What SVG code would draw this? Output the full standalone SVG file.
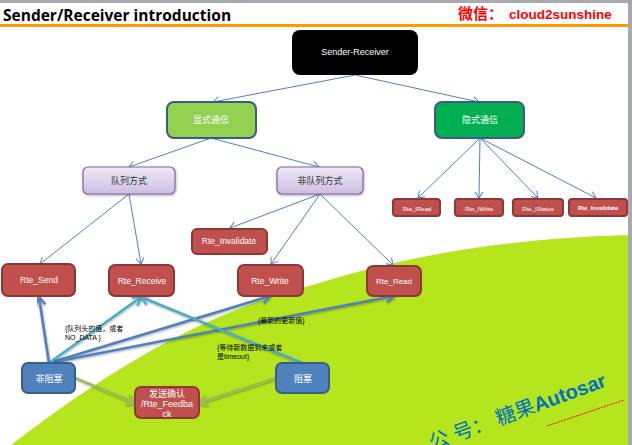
<svg xmlns="http://www.w3.org/2000/svg" width="632" height="445" viewBox="0 0 632 445">
<style>
text{font-family:"Liberation Sans","Noto Sans CJK SC",sans-serif;text-anchor:middle}
.n{fill:#fff;font-size:9px}
.lab{fill:#000;font-size:7px;text-anchor:start}
.red{fill:#c0504d;stroke:#8c3836;stroke-width:2}
.blue{fill:#4f81bd;stroke:#385d8a;stroke-width:2}
.green{stroke:#385d8a;stroke-width:2}
.pur{fill:url(#pg);stroke:#8064a2;stroke-width:1.2;filter:url(#sh)}
.thin{fill:none;stroke:#4f81bd;stroke-width:1;marker-end:url(#open)}
.tb{fill:none;stroke:#4f81bd;stroke-width:2.6;marker-end:url(#openb);filter:url(#sh)}
.tc{fill:none;stroke:#4bacc6;stroke-width:2.6;marker-end:url(#openc);filter:url(#sh)}
.to{fill:none;stroke:#9bbb59;stroke-width:2.6;marker-end:url(#openo);filter:url(#sh)}
</style>
<defs>
<linearGradient id="pg" x1="0" y1="0" x2="0" y2="1"><stop offset="0" stop-color="#efe9f6"/><stop offset="1" stop-color="#cdbde2"/></linearGradient>
<filter id="sh" x="-20%" y="-20%" width="140%" height="140%"><feDropShadow dx="0.5" dy="1" stdDeviation="0.8" flood-color="#000" flood-opacity="0.35"/></filter>
<marker id="open" markerUnits="userSpaceOnUse" markerWidth="12" markerHeight="12" refX="9" refY="6" orient="auto"><path d="M3 2L9 6L3 10" fill="none" stroke="#4f81bd" stroke-width="1"/></marker>
<marker id="openb" markerUnits="userSpaceOnUse" markerWidth="14" markerHeight="14" refX="11" refY="7" orient="auto"><path d="M3 2L11 7L3 12" fill="none" stroke="#4f81bd" stroke-width="2.4"/></marker>
<marker id="openc" markerUnits="userSpaceOnUse" markerWidth="14" markerHeight="14" refX="11" refY="7" orient="auto"><path d="M3 2L11 7L3 12" fill="none" stroke="#4bacc6" stroke-width="2.4"/></marker>
<marker id="openo" markerUnits="userSpaceOnUse" markerWidth="14" markerHeight="14" refX="11" refY="7" orient="auto"><path d="M3 2L11 7L3 12" fill="none" stroke="#9bbb59" stroke-width="2.4"/></marker>
</defs>
<rect width="632" height="445" fill="#fff"/>
<path id="bg-curve" d="M11 445C90 385 190 315 316 284C400 258 500 238 632 235V445Z" fill="#b5e61d"/>
<text x="3" y="21" font-size="15.5" font-weight="700" style="text-anchor:start;font-family:'Open Sans','Liberation Sans',sans-serif">Sender/Receiver introduction</text>
<rect y="24" width="632" height="3" fill="#ff9900"/>
<text x="458" y="19" font-size="15" font-weight="700" fill="#ff0000" style="text-anchor:start">微信：</text>
<text x="509" y="19" font-size="13.5" font-weight="700" fill="#ff0000" style="text-anchor:start">cloud2sunshine</text>
<text transform="translate(432 450) rotate(-20)" font-size="20" fill="#0070c0" style="text-anchor:start">公 号： 糖果<tspan font-weight="700">Autosar</tspan></text>
<path d="M547 426L624 400" fill="none" stroke="#ff0000" stroke-width="1" stroke-dasharray="2 1"/>

<g id="connectors">
<path class="thin" d="M355 75L213 102"/>
<path class="thin" d="M355 75L479 102"/>
<path class="thin" d="M211 138L129 167"/>
<path class="thin" d="M211 138L319 167"/>
<path class="thin" d="M480 138L418 198"/>
<path class="thin" d="M480 138L479 198"/>
<path class="thin" d="M480 138L538 198"/>
<path class="thin" d="M480 138L596 198"/>
<path class="thin" d="M129 194L40 264"/>
<path class="thin" d="M129 194L141 264"/>
<path class="thin" d="M320 194L230 228"/>
<path class="thin" d="M320 194L271 264"/>
<path class="thin" d="M320 194L393 265"/>
<path class="tb" d="M49 363L39 297"/>
<path class="tb" d="M49 363L270 296"/>
<path class="tb" d="M49 363L394 296"/>
<path class="tc" d="M49 363L141 297"/>
<path class="tc" d="M302 363L141 297"/>
<path class="to" d="M75 378L135 403"/>
<path class="to" d="M276 378L199 403"/>
</g>

<g id="n-root"><rect x="292" y="30" width="126" height="45" rx="8" fill="#000"/><text class="n" x="355" y="55" font-size="8">Sender-Receiver</text></g>
<g id="n-explicit"><rect class="green" x="167" y="102" width="89" height="36" rx="7" fill="#92d050"/><text class="n" x="211" y="123">显式通信</text></g>
<g id="n-implicit"><rect class="green" x="435" y="102" width="89" height="36" rx="7" fill="#00b050"/><text class="n" x="480" y="123">隐式通信</text></g>
<g id="n-queue"><rect class="pur" x="83" y="167" width="92" height="27" rx="5"/><text x="129" y="184" font-size="9" fill="#333">队列方式</text></g>
<g id="n-nonqueue"><rect class="pur" x="277" y="167" width="86" height="27" rx="5"/><text x="320" y="184" font-size="9" fill="#333">非队列方式</text></g>
<g id="n-iread"><rect class="red" x="393" y="199" width="47" height="17" rx="3"/><text class="n" x="417" y="211" style="font-size:6px">Rte_IRead</text></g>
<g id="n-iwrite"><rect class="red" x="455" y="199" width="48" height="17" rx="3"/><text class="n" x="479" y="211" style="font-size:6px">Rte_IWrite</text></g>
<g id="n-istatus"><rect class="red" x="513" y="199" width="50" height="17" rx="3"/><text class="n" x="538" y="211" style="font-size:6px">Rte_IStatus</text></g>
<g id="n-iinv"><rect class="red" x="569" y="199" width="58" height="17" rx="3"/><text class="n" x="598" y="210" style="font-size:6px;font-weight:700">Rte_Invalidate</text></g>
<g id="n-inv"><rect class="red" x="192" y="229" width="75" height="25" rx="5"/><text class="n" x="229" y="244" style="font-size:8.5px">Rte_Invalidate</text></g>
<g id="n-send"><rect class="red" x="2" y="264" width="73" height="32" rx="6"/><text class="n" x="39" y="283" style="font-size:8.5px">Rte_Send</text></g>
<g id="n-receive"><rect class="red" x="109" y="265" width="65" height="31" rx="6"/><text class="n" x="142" y="284" style="font-size:8.5px">Rte_Receive</text></g>
<g id="n-write"><rect class="red" x="238" y="265" width="65" height="31" rx="6"/><text class="n" x="270" y="284" style="font-size:8.5px">Rte_Write</text></g>
<g id="n-read"><rect class="red" x="367" y="266" width="54" height="30" rx="6"/><text class="n" x="394" y="284" style="font-size:8px">Rte_Read</text></g>
<g id="n-nonblock"><rect class="blue" x="22" y="363" width="53" height="30" rx="6"/><text class="n" x="49" y="382" style="font-size:9px">非阻塞</text></g>
<g id="n-block"><rect class="blue" x="276" y="363" width="53" height="30" rx="6"/><text class="n" x="303" y="382" style="font-size:9px">阻塞</text></g>
<g id="n-feedback"><rect class="red" x="135" y="387" width="64" height="31" rx="6"/><text class="n" x="167" y="397">发送确认</text><text class="n" x="167" y="407">/Rte_Feedba</text><text class="n" x="167" y="417">ck</text></g>

<text class="lab" x="65" y="331">{队列头的值，或者</text>
<text class="lab" x="65" y="339.500">NO_DATA }</text>
<text class="lab" x="258" y="323">{最新的更新值}</text>
<text class="lab" x="217" y="350">{等待新数据到来或者</text>
<text class="lab" x="217" y="359">是timeout}</text>

<rect width="632" height="3" fill="#a6a9ad"/>
<rect x="628" width="4" height="445" fill="#a6a9ad"/>
</svg>
